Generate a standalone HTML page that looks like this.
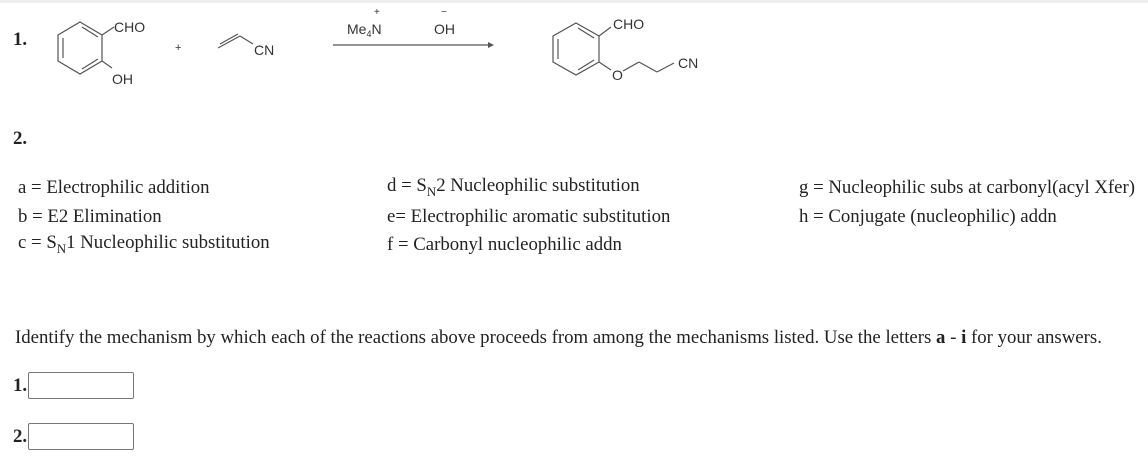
<!DOCTYPE html>
<html><head><style>
body{margin:0;width:1148px;height:461px;background:#fff;position:relative;overflow:hidden;font-family:"Liberation Serif",serif;}
.t{position:absolute;font-size:18.8px;color:#222;white-space:nowrap;}
.box{position:absolute;left:28px;width:104px;height:25px;border:1px solid #777;border-radius:2px;}
</style></head><body>
<div style="position:absolute;left:0;top:0;width:1148px;height:3px;background:#eee"></div>
<svg width="1148" height="110" style="position:absolute;left:0;top:0" font-family="Liberation Sans, sans-serif" font-size="14" fill="#333">
<g stroke="#555" stroke-width="1.2" fill="none">
<polygon points="80,22 102,35 102,61 80,74 58,61 58,35"/>
<line x1="63" y1="38" x2="63" y2="58"/><line x1="82" y1="27" x2="98" y2="37"/><line x1="82" y1="69" x2="98" y2="59"/>
<line x1="102" y1="35" x2="114" y2="27"/><line x1="102" y1="61" x2="112" y2="68"/>
<line x1="218" y1="48" x2="240" y2="36"/><line x1="220" y1="44" x2="238" y2="34"/><line x1="240" y1="36" x2="253" y2="44"/>
<line x1="333" y1="45" x2="488" y2="45"/>
<polygon points="576,23 599,36 599,62 576,75 553,62 553,36"/>
<line x1="558" y1="39" x2="558" y2="59"/><line x1="578" y1="28" x2="594" y2="38"/><line x1="578" y1="70" x2="594" y2="60"/>
<line x1="599" y1="36" x2="611" y2="27"/><line x1="599" y1="62" x2="611" y2="70"/>
<line x1="623" y1="71" x2="639" y2="62"/><line x1="639" y1="62" x2="657" y2="72"/><line x1="657" y1="72" x2="674" y2="63"/>
</g>
<polygon points="488,42 494,45 488,48" fill="#555"/>
<text x="114" y="32">CHO</text><text x="112" y="84">OH</text>
<text x="175" y="51" font-size="11">+</text>
<text x="254" y="55">CN</text>
<text x="347" y="34">Me<tspan font-size="9" dy="3">4</tspan><tspan dy="-3">N</tspan></text>
<text x="374" y="15" font-size="10">+</text><text x="441" y="15" font-size="10">−</text>
<text x="434" y="34">OH</text>
<text x="613" y="29">CHO</text><text x="612" y="80">O</text><text x="678" y="68">CN</text>
</svg>
<div class="t" style="left:13px;top:29px;font-weight:bold">1.</div>
<div class="t" style="left:13px;top:128px;font-weight:bold">2.</div>
<div class="t" style="left:18px;top:177px">a = Electrophilic addition</div>
<div class="t" style="left:18px;top:206px">b = E2 Elimination</div>
<div class="t" style="left:18px;top:232px">c = S<sub style="font-size:13px">N</sub>1 Nucleophilic substitution</div>
<div class="t" style="left:387px;top:175px">d = S<sub style="font-size:13px">N</sub>2 Nucleophilic substitution</div>
<div class="t" style="left:387px;top:206px">e= Electrophilic aromatic substitution</div>
<div class="t" style="left:387px;top:234px">f = Carbonyl nucleophilic addn</div>
<div class="t" style="left:799px;top:177px">g = Nucleophilic subs at carbonyl(acyl Xfer)</div>
<div class="t" style="left:799px;top:206px">h = Conjugate (nucleophilic) addn</div>
<div class="t" style="left:15px;top:327px">Identify the mechanism by which each of the reactions above proceeds from among the mechanisms listed. Use the letters <b>a</b> - <b>i</b> for your answers.</div>
<div class="t" style="left:13px;top:375px;font-weight:bold">1.</div><div class="box" style="top:372px"></div>
<div class="t" style="left:13px;top:426px;font-weight:bold">2.</div><div class="box" style="top:423px"></div>
</body></html>
